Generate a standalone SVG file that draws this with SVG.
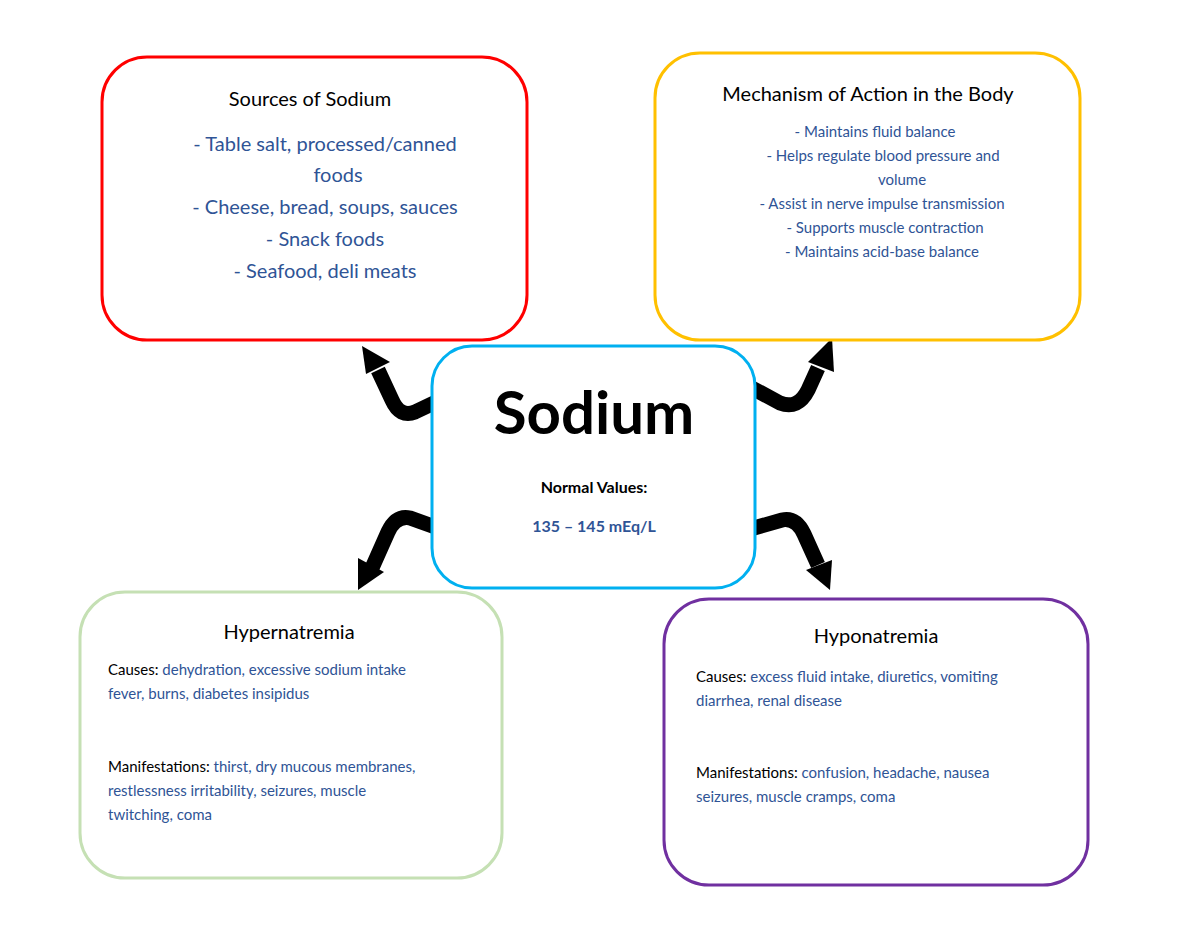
<svg xmlns="http://www.w3.org/2000/svg" width="1200" height="927" viewBox="0 0 1200 927">
<style>
.box{fill:#fff;stroke-width:3}
text{font-family:Lato,"Liberation Sans",sans-serif}
.h{font-size:20px;fill:#000;text-anchor:middle}
.b{font-size:20px;fill:#2F5496;text-anchor:middle}
.s{font-size:15px;fill:#2F5496;text-anchor:middle}
.t{font-size:15px;fill:#2F5496}
.k{fill:#000}
.arr{fill:none;stroke:#000;stroke-width:15}
</style>
<rect width="1200" height="927" fill="#fff"/>
<g id="connectors">
<path class="arr" d="M436,402 L415,412 Q400,418 392,400 L378,370"/>
<polygon points="362,346 390,362 366,374"/>
<path class="arr" d="M752,388 L780,403 Q798,410 808,390 L818,368"/>
<polygon points="832,338 834,372 808,362"/>
<path class="arr" d="M438,528 L410,518 Q396,515 388,532 L372,568"/>
<polygon points="358,590 358,558 384,572"/>
<path class="arr" d="M754,528 L782,520 Q796,517 804,534 L818,565"/>
<polygon points="830,590 806,570 832,560"/>
</g>
<g id="sources">
<rect class="box" x="102" y="57" width="425" height="283" rx="45" stroke="#FF0000"/>
<text class="h" x="310" y="106">Sources of Sodium</text>
<text class="b" x="325" y="151">-   Table salt, processed/canned</text>
<text class="b" x="338" y="182">foods</text>
<text class="b" x="325" y="214">-   Cheese, bread, soups, sauces</text>
<text class="b" x="325" y="246">-   Snack foods</text>
<text class="b" x="325" y="278">-   Seafood, deli meats</text>
</g>
<g id="mechanism">
<rect class="box" x="655" y="53" width="425" height="287" rx="45" stroke="#FFC000"/>
<text class="h" x="868" y="101">Mechanism of Action in the Body</text>
<text class="s" x="875" y="137">-     Maintains fluid balance</text>
<text class="s" x="883" y="161">-     Helps regulate blood pressure and</text>
<text class="s" x="902" y="185">volume</text>
<text class="s" x="882" y="209">-     Assist in nerve impulse transmission</text>
<text class="s" x="885" y="233">-     Supports muscle contraction</text>
<text class="s" x="882" y="257">-     Maintains acid-base balance</text>
</g>
<g id="sodium">
<rect class="box" x="432" y="346" width="323" height="242" rx="40" stroke="#00B0F0"/>
<text x="594" y="434" text-anchor="middle" font-size="60" font-weight="bold" fill="#000">Sodium</text>
<text x="594" y="493" text-anchor="middle" font-size="16" font-weight="bold" fill="#000">Normal Values:</text>
<text x="594" y="532" text-anchor="middle" font-size="16" font-weight="bold" fill="#2F5496">135 – 145 mEq/L</text>
</g>
<g id="hypernatremia">
<rect class="box" x="80" y="592" width="422" height="286" rx="45" stroke="#C5E0B4"/>
<text class="h" x="289" y="639">Hypernatremia</text>
<text class="t" x="108" y="675"><tspan class="k">Causes: </tspan>dehydration, excessive sodium intake</text>
<text class="t" x="108" y="699">fever, burns, diabetes insipidus</text>
<text class="t" x="108" y="772"><tspan class="k">Manifestations: </tspan>thirst, dry mucous membranes,</text>
<text class="t" x="108" y="796">restlessness irritability, seizures, muscle</text>
<text class="t" x="108" y="820">twitching, coma</text>
</g>
<g id="hyponatremia">
<rect class="box" x="664" y="599" width="424" height="286" rx="45" stroke="#7030A0"/>
<text class="h" x="876" y="643">Hyponatremia</text>
<text class="t" x="696" y="682"><tspan class="k">Causes: </tspan>excess fluid intake, diuretics, vomiting</text>
<text class="t" x="696" y="706">diarrhea, renal disease</text>
<text class="t" x="696" y="778"><tspan class="k">Manifestations: </tspan>confusion, headache, nausea</text>
<text class="t" x="696" y="802">seizures, muscle cramps, coma</text>
</g>
</svg>
